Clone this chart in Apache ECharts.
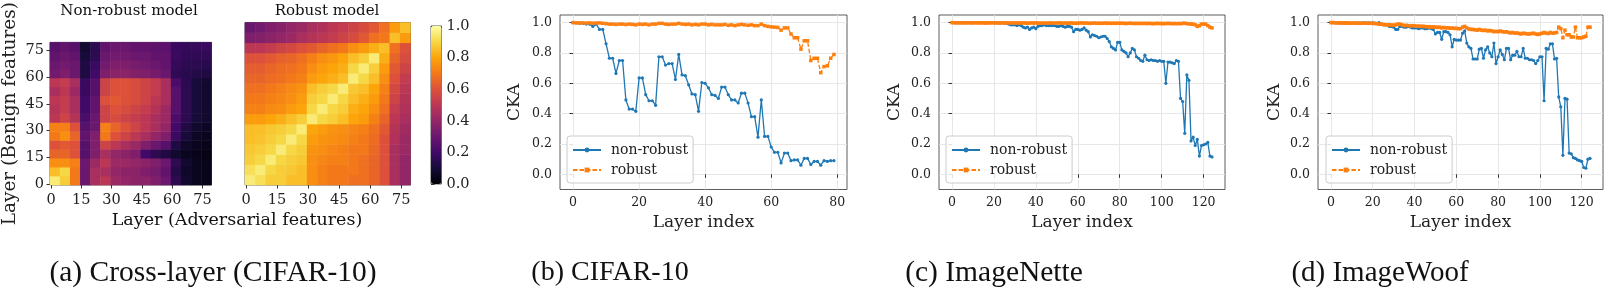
<!DOCTYPE html>
<html>
<head>
<meta charset="utf-8">
<script src="https://cdn.jsdelivr.net/npm/echarts@6/dist/echarts.min.js"></script>
<style>
  html, body { margin: 0; padding: 0; background: #fff; }
  #main { width: 1611px; height: 297px; }
</style>
</head>
<body>
<div id="main"></div>
<script>
// heatmap blocks: 5 layers per block, rows listed bottom (layers 0-4) to top (75-79)
var heatBlocks = ['0','5','10','15','20','25','30','35','40','45','50','55','60','65','70','75'];
var heatTicks = [0, 15, 30, 45, 60, 75];

var nonRobustHeat = [
  [0.95,0.88,0.70,0.30,0.45,0.50,0.42,0.40,0.38,0.38,0.35,0.30,0.15,0.08,0.05,0.04],
  [0.85,0.90,0.70,0.30,0.45,0.45,0.40,0.38,0.38,0.35,0.33,0.28,0.13,0.07,0.05,0.04],
  [0.75,0.75,0.72,0.30,0.42,0.50,0.42,0.42,0.40,0.38,0.35,0.30,0.15,0.08,0.05,0.04],
  [0.65,0.65,0.60,0.25,0.35,0.45,0.40,0.38,0.35,0.20,0.15,0.12,0.08,0.05,0.04,0.03],
  [0.60,0.62,0.60,0.25,0.35,0.55,0.50,0.45,0.42,0.35,0.30,0.25,0.12,0.07,0.05,0.04],
  [0.70,0.75,0.65,0.28,0.35,0.70,0.60,0.55,0.50,0.45,0.40,0.35,0.18,0.10,0.06,0.05],
  [0.72,0.72,0.60,0.25,0.30,0.72,0.65,0.60,0.55,0.50,0.45,0.40,0.20,0.12,0.08,0.06],
  [0.50,0.55,0.48,0.22,0.30,0.55,0.58,0.55,0.52,0.50,0.45,0.42,0.22,0.15,0.10,0.08],
  [0.48,0.52,0.45,0.20,0.28,0.55,0.60,0.58,0.55,0.52,0.48,0.42,0.25,0.15,0.10,0.08],
  [0.50,0.52,0.45,0.20,0.28,0.60,0.62,0.60,0.58,0.55,0.50,0.45,0.25,0.15,0.10,0.08],
  [0.45,0.50,0.42,0.18,0.25,0.55,0.60,0.60,0.58,0.55,0.52,0.45,0.25,0.15,0.10,0.08],
  [0.50,0.52,0.45,0.18,0.25,0.55,0.60,0.60,0.58,0.55,0.52,0.45,0.22,0.15,0.10,0.08],
  [0.32,0.35,0.30,0.12,0.20,0.35,0.38,0.38,0.36,0.35,0.33,0.30,0.16,0.14,0.13,0.12],
  [0.30,0.32,0.30,0.12,0.18,0.32,0.35,0.35,0.33,0.32,0.30,0.28,0.17,0.15,0.15,0.14],
  [0.28,0.30,0.28,0.10,0.15,0.30,0.32,0.32,0.30,0.30,0.28,0.28,0.18,0.16,0.16,0.16],
  [0.25,0.28,0.25,0.08,0.15,0.28,0.30,0.30,0.28,0.28,0.27,0.26,0.18,0.17,0.17,0.18]
];

var robustHeat = [
  [0.95,0.92,0.88,0.88,0.85,0.85,0.75,0.72,0.70,0.70,0.68,0.68,0.65,0.60,0.45,0.40],
  [0.92,0.95,0.90,0.88,0.87,0.85,0.75,0.72,0.70,0.70,0.70,0.68,0.65,0.60,0.45,0.40],
  [0.88,0.90,0.95,0.90,0.88,0.87,0.75,0.73,0.72,0.72,0.70,0.68,0.65,0.60,0.45,0.40],
  [0.87,0.88,0.90,0.95,0.90,0.88,0.76,0.75,0.73,0.72,0.70,0.70,0.66,0.60,0.45,0.42],
  [0.85,0.86,0.88,0.90,0.95,0.90,0.78,0.76,0.75,0.74,0.72,0.70,0.67,0.60,0.47,0.42],
  [0.85,0.85,0.87,0.88,0.90,0.95,0.80,0.78,0.76,0.75,0.73,0.72,0.68,0.62,0.48,0.43],
  [0.78,0.78,0.80,0.82,0.85,0.88,0.95,0.90,0.88,0.85,0.80,0.78,0.72,0.65,0.50,0.45],
  [0.72,0.72,0.74,0.75,0.78,0.80,0.90,0.95,0.90,0.88,0.82,0.80,0.75,0.68,0.52,0.47],
  [0.70,0.70,0.72,0.73,0.75,0.78,0.88,0.90,0.95,0.90,0.85,0.82,0.78,0.70,0.55,0.48],
  [0.68,0.68,0.70,0.72,0.74,0.76,0.85,0.88,0.90,0.95,0.87,0.85,0.80,0.72,0.57,0.50],
  [0.65,0.65,0.67,0.68,0.70,0.72,0.78,0.80,0.82,0.85,0.95,0.90,0.85,0.75,0.60,0.52],
  [0.63,0.63,0.65,0.67,0.68,0.70,0.75,0.78,0.80,0.82,0.90,0.95,0.88,0.78,0.62,0.55],
  [0.60,0.60,0.62,0.64,0.65,0.68,0.72,0.75,0.77,0.80,0.85,0.88,0.95,0.82,0.65,0.58],
  [0.50,0.50,0.52,0.55,0.57,0.60,0.62,0.65,0.68,0.70,0.75,0.78,0.82,0.85,0.68,0.60],
  [0.35,0.36,0.38,0.40,0.42,0.45,0.48,0.50,0.52,0.55,0.58,0.62,0.68,0.70,0.85,0.78],
  [0.30,0.32,0.35,0.37,0.40,0.42,0.45,0.47,0.50,0.52,0.55,0.58,0.62,0.68,0.78,0.85]
];

// CKA per layer
var ckaTicks = [0, 0.2, 0.4, 0.6, 0.8, 1.0];
var cifarTicks = [0, 20, 40, 60, 80];
var imgTicks = [0, 20, 40, 60, 80, 100, 120];

var cifarNonRobust = [
  1.0,0.998,0.995,0.995,0.99,0.99,0.975,0.99,0.955,0.955,
  0.86,0.765,0.765,0.665,0.75,0.75,0.49,0.43,0.43,0.415,
  0.635,0.635,0.525,0.485,0.485,0.455,0.775,0.775,0.72,0.73,
  0.73,0.625,0.79,0.655,0.65,0.59,0.53,0.525,0.415,0.605,
  0.6,0.57,0.525,0.52,0.5,0.575,0.575,0.525,0.49,0.49,
  0.47,0.535,0.535,0.47,0.38,0.38,0.245,0.49,0.25,0.25,
  0.18,0.145,0.145,0.075,0.14,0.14,0.09,0.095,0.095,0.06,
  0.105,0.105,0.065,0.085,0.085,0.06,0.09,0.085,0.09,0.09
];
var cifarRobust = [
  1.0,0.998,0.998,0.998,0.997,0.998,0.996,0.997,0.998,0.995,
  0.993,0.99,0.99,0.988,0.99,0.99,0.987,0.99,0.988,0.985,
  0.99,0.988,0.99,0.985,0.99,0.99,0.995,0.995,0.99,0.988,
  0.99,0.99,0.995,0.99,0.988,0.99,0.985,0.988,0.985,0.99,
  0.99,0.985,0.988,0.985,0.985,0.985,0.988,0.982,0.985,0.98,
  0.985,0.988,0.985,0.982,0.985,0.98,0.98,0.99,0.98,0.975,
  0.972,0.97,0.968,0.95,0.965,0.965,0.925,0.9,0.9,0.825,
  0.88,0.88,0.75,0.765,0.765,0.67,0.71,0.715,0.765,0.79
];

var netteNonRobust = [
  1.0,1.0,1.0,1.0,1.0,1.0,1.0,1.0,1.0,1.0,
  1.0,0.999,1.0,0.999,1.0,1.0,0.999,1.0,0.999,1.0,
  1.0,0.999,1.0,0.998,0.999,0.998,0.996,0.99,0.985,0.985,
  0.985,0.98,0.985,0.98,0.97,0.965,0.97,0.955,0.965,0.97,
  0.96,0.975,0.98,0.98,0.985,0.98,0.98,0.98,0.98,0.98,
  0.975,0.975,0.98,0.975,0.97,0.975,0.975,0.97,0.94,0.955,
  0.955,0.95,0.955,0.965,0.95,0.94,0.905,0.92,0.915,0.91,
  0.9,0.905,0.91,0.91,0.895,0.875,0.84,0.83,0.82,0.87,
  0.87,0.82,0.81,0.8,0.775,0.8,0.83,0.82,0.775,0.765,
  0.75,0.745,0.785,0.755,0.75,0.755,0.75,0.75,0.745,0.75,
  0.745,0.745,0.6,0.74,0.74,0.735,0.73,0.75,0.745,0.5,
  0.48,0.27,0.655,0.62,0.22,0.245,0.19,0.23,0.12,0.19,
  0.195,0.2,0.21,0.12,0.115
];
var netteRobust = [
  1.0,0.999,0.998,0.999,0.998,0.999,0.998,0.998,0.999,0.998,
  0.998,0.999,0.998,0.998,0.999,0.998,0.997,0.998,0.998,0.999,
  0.998,0.998,0.997,0.998,0.998,0.997,0.998,0.998,0.997,0.998,
  0.997,0.998,0.998,0.997,0.998,0.997,0.996,0.997,0.998,0.997,
  0.998,0.997,0.996,0.997,0.997,0.996,0.997,0.998,0.997,0.996,
  0.997,0.998,0.997,0.996,0.997,0.996,0.997,0.998,0.996,0.995,
  0.996,0.997,0.998,0.996,0.997,0.996,0.995,0.996,0.997,0.995,
  0.996,0.995,0.996,0.997,0.995,0.996,0.995,0.996,0.995,0.996,
  0.995,0.996,0.995,0.994,0.995,0.996,0.995,0.994,0.995,0.994,
  0.995,0.994,0.995,0.994,0.995,0.994,0.993,0.994,0.995,0.994,
  0.994,0.993,0.994,0.995,0.994,0.993,0.994,0.993,0.994,0.993,
  0.995,0.996,0.993,0.992,0.99,0.99,0.985,0.975,0.98,0.99,
  0.99,0.99,0.98,0.97,0.965
];

var woofNonRobust = [
  1.0,1.0,1.0,0.998,0.999,0.998,0.998,0.997,0.998,0.995,
  0.997,0.996,0.997,0.996,0.997,0.996,0.998,0.997,0.998,0.997,
  0.998,0.997,0.995,1.0,0.99,0.985,0.985,0.985,0.975,0.975,
  0.97,0.955,0.955,0.975,0.975,0.97,0.97,0.975,0.97,0.965,
  0.965,0.965,0.96,0.965,0.965,0.96,0.96,0.965,0.96,0.955,
  0.925,0.935,0.935,0.89,0.94,0.94,0.935,0.92,0.84,0.89,
  0.885,0.885,0.885,0.93,0.945,0.865,0.84,0.83,0.76,0.76,
  0.76,0.825,0.83,0.765,0.82,0.84,0.8,0.775,0.865,0.73,
  0.775,0.82,0.79,0.755,0.83,0.83,0.755,0.785,0.785,0.81,
  0.775,0.775,0.83,0.765,0.765,0.755,0.755,0.75,0.73,0.75,
  0.775,0.775,0.485,0.83,0.825,0.86,0.86,0.76,0.765,0.51,
  0.445,0.125,0.5,0.495,0.14,0.135,0.11,0.105,0.095,0.09,
  0.085,0.045,0.04,0.1,0.105
];
var woofRobust = [
  1.0,1.0,0.998,0.999,0.998,0.997,0.998,0.998,0.997,0.996,
  0.997,0.996,0.997,0.996,0.995,0.996,0.997,0.996,0.995,0.996,
  0.995,0.994,0.993,0.99,0.99,0.988,0.986,0.985,0.986,0.984,
  0.983,0.985,0.99,0.99,0.985,0.98,0.982,0.98,0.978,0.98,
  0.978,0.976,0.977,0.975,0.976,0.974,0.972,0.973,0.97,0.972,
  0.97,0.968,0.97,0.965,0.968,0.965,0.966,0.963,0.964,0.962,
  0.962,0.96,0.96,0.97,0.975,0.965,0.958,0.955,0.955,0.952,
  0.95,0.955,0.95,0.948,0.95,0.945,0.948,0.945,0.94,0.942,
  0.94,0.945,0.94,0.938,0.94,0.935,0.932,0.935,0.93,0.932,
  0.928,0.925,0.93,0.928,0.925,0.925,0.928,0.93,0.925,0.922,
  0.925,0.93,0.935,0.93,0.928,0.935,0.93,0.932,0.935,0.97,
  0.96,0.9,0.95,0.92,0.92,0.905,0.905,0.97,0.9,0.9,
  0.9,0.905,0.91,0.97,0.97
];

var FONT = 'DejaVu Serif';
var CAP_FONT = 'Liberation Serif';
var BLUE = '#1f77b4', ORANGE = '#ff7f0e';
var inferno = ['#000004','#160b39','#420a68','#6a176e','#932667','#bc3754',
               '#dd513a','#f37819','#fca50a','#f6d746','#fcffa4'];

function heatData(m) {
  var out = [];
  m.forEach(function (row, r) {
    row.forEach(function (v, k) { out.push([k, r, v]); });
  });
  return out;
}
function pts(arr) {
  return arr.map(function (v, i) { return [i, v]; });
}

var myChart = echarts.init(document.getElementById('main'));

var grids = [
  {left: 46, top: 22.5, width: 165.5, height: 162.5},
  {left: 245, top: 22.5, width: 165.5, height: 162.5},
  {left: 431, top: 26, width: 10.5, height: 158},
  {left: 560, top: 15, width: 287, height: 174.5},
  {left: 939, top: 15, width: 286, height: 174.5},
  {left: 1318, top: 15, width: 285, height: 174.5}
];
grids.forEach(function (g) {
  g.show = true; g.borderColor = '#333'; g.borderWidth = 0.8; g.backgroundColor = 'transparent'; g.containLabel = false;
});

var tickLabel = {fontFamily: FONT, fontSize: 12.5, color: '#222'};
var heatLabel = {fontFamily: FONT, fontSize: 14.5, color: '#222'};

function catAxis(gi) {
  return {type: 'category', gridIndex: gi, data: heatBlocks, show: false};
}
function heatValAxis(gi, pos, labels) {
  return {
    type: 'value', gridIndex: gi, position: pos, min: -0.5, max: 79.5,
    axisLine: {show: false}, splitLine: {show: false},
    axisTick: {show: labels, length: 3.5, lineStyle: {color: '#333'}, customValues: heatTicks},
    axisLabel: Object.assign({show: labels, margin: pos === 'left' ? 6 : 8, customValues: heatTicks}, heatLabel)
  };
}
function layerAxis(gi, max, ticks) {
  return {
    type: 'value', gridIndex: gi, min: ticks === cifarTicks ? -3.95 : -6.2, max: max,
    splitNumber: ticks === cifarTicks ? 4 : 6,
    name: 'Layer index', nameLocation: 'middle', nameGap: 24,
    nameTextStyle: {fontFamily: FONT, fontSize: 17, color: '#222'},
    axisLine: {show: false},
    axisTick: {length: 3.5, lineStyle: {color: '#333'}, customValues: ticks},
    axisLabel: Object.assign({margin: 7, customValues: ticks}, tickLabel),
    splitLine: {show: true, lineStyle: {color: '#e4e4e4', width: 0.9}}
  };
}
function ckaAxis(gi, gap) {
  return {
    type: 'value', gridIndex: gi, min: -0.1, max: 1.05, splitNumber: 5,
    name: 'CKA', nameLocation: 'middle', nameGap: gap,
    nameTextStyle: {fontFamily: FONT, fontSize: 17, color: '#222'},
    axisLine: {show: false},
    axisTick: {length: 3.5, lineStyle: {color: '#333'}, customValues: ckaTicks},
    axisLabel: Object.assign({margin: 8, customValues: ckaTicks,
      formatter: function (v) { return v.toFixed(1); }}, tickLabel),
    splitLine: {show: true, lineStyle: {color: '#e4e4e4', width: 0.9}}
  };
}

var xAxes = [
  catAxis(0), heatValAxis(0, 'bottom', true),
  catAxis(1), heatValAxis(1, 'bottom', true),
  {type: 'value', gridIndex: 2, min: 0, max: 1, show: false},
  layerAxis(3, 82.95, cifarTicks),
  layerAxis(4, 130.2, imgTicks),
  layerAxis(5, 130.2, imgTicks)
];
var leftHeatY = heatValAxis(0, 'left', true);
leftHeatY.name = 'Layer (Benign features)';
leftHeatY.nameLocation = 'middle';
leftHeatY.nameGap = 30;
leftHeatY.nameTextStyle = {fontFamily: FONT, fontSize: 18.5, color: '#222'};
var yAxes = [
  catAxis(0), leftHeatY,
  catAxis(1), heatValAxis(1, 'left', false),
  {
    type: 'value', gridIndex: 2, position: 'right', min: 0, max: 1, interval: 0.2,
    axisLine: {show: false}, splitLine: {show: false},
    axisTick: {length: 3.5, lineStyle: {color: '#333'}},
    axisLabel: Object.assign({margin: 5, formatter: function (v) { return v.toFixed(1); }}, heatLabel)
  },
  ckaAxis(3, 37), ckaAxis(4, 36), ckaAxis(5, 35)
];

function lineSeries(name, arr, xi, robust) {
  var c = robust ? ORANGE : BLUE;
  return {
    type: 'line', name: name, xAxisIndex: xi, yAxisIndex: xi, data: pts(arr),
    symbol: robust ? 'rect' : 'circle', symbolSize: robust ? 3.5 : 3.2, showAllSymbol: true,
    lineStyle: {color: c, width: 1.3, type: robust ? [4.5, 2] : 'solid'},
    itemStyle: {color: c}, z: robust ? 4 : 3, silent: true
  };
}

function legendAt(left) {
  return {
    left: left, top: 136, orient: 'vertical',
    data: ['non-robust', 'robust'],
    itemWidth: 28, itemHeight: 6, itemGap: 6,
    padding: [7, 5, 6, 5],
    backgroundColor: 'rgba(255,255,255,0.85)', borderColor: '#cccccc', borderWidth: 1, borderRadius: 3,
    textStyle: {fontFamily: FONT, fontSize: 14, color: '#222', padding: [0, 0, 0, 5]},
    selectedMode: false
  };
}

function txt(x, y, s, size, fam) {
  return {
    type: 'text', x: x, y: y, silent: true,
    style: {text: s, fill: '#111', align: 'center', verticalAlign: 'middle',
      fontFamily: fam || FONT, fontSize: size}
  };
}

option = {
  animation: false,
  backgroundColor: '#fff',
  textStyle: {fontFamily: FONT},
  grid: grids,
  xAxis: xAxes,
  yAxis: yAxes,
  visualMap: {
    type: 'continuous', min: 0, max: 1, seriesIndex: [0, 1], dimension: 2,
    calculable: false, realtime: false, hoverLink: false,
    left: 431, top: 26, itemWidth: 10.5, itemHeight: 158, padding: 0,
    inRange: {color: inferno}, text: null, showLabel: false
  },
  legend: [legendAt(567), legendAt(946), legendAt(1326)],
  graphic: [
    txt(129, 11, 'Non-robust model', 15),
    txt(327, 11, 'Robust model', 15),
    txt(237, 220, 'Layer (Adversarial features)', 17.5),
    txt(213, 273, '(a) Cross-layer (CIFAR-10)', 29.5, CAP_FONT),
    txt(610, 273, '(b) CIFAR-10', 28, CAP_FONT),
    txt(994, 273, '(c) ImageNette', 29.5, CAP_FONT),
    txt(1380, 273, '(d) ImageWoof', 29, CAP_FONT)
  ],
  series: [
    {type: 'heatmap', xAxisIndex: 0, yAxisIndex: 0, data: heatData(nonRobustHeat), silent: true},
    {type: 'heatmap', xAxisIndex: 2, yAxisIndex: 2, data: heatData(robustHeat), silent: true},
    lineSeries('non-robust', cifarNonRobust, 5, false),
    lineSeries('robust', cifarRobust, 5, true),
    lineSeries('non-robust', netteNonRobust, 6, false),
    lineSeries('robust', netteRobust, 6, true),
    lineSeries('non-robust', woofNonRobust, 7, false),
    lineSeries('robust', woofRobust, 7, true)
  ]
};
myChart.setOption(option);
</script>
</body>
</html>
